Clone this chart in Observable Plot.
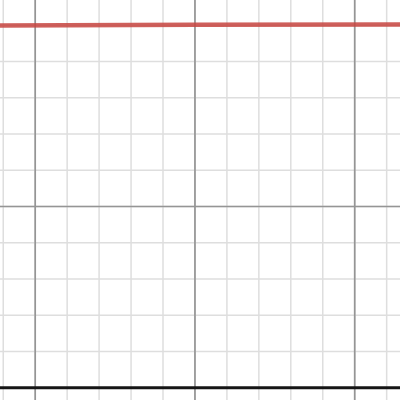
<!DOCTYPE html>
<html>
<head>
<meta charset="utf-8">
<script src="https://cdn.jsdelivr.net/npm/d3@7"></script>
<script src="https://cdn.jsdelivr.net/npm/@observablehq/plot@0.6"></script>
<style>
  html, body { margin: 0; padding: 0; background: #fff; }
  #chart svg { display: block; }
</style>
</head>
<body>
<div id="chart"></div>
<script>
// Visible window (graph units)
const xDomain = [3.914, 16.433];
const yDomain = [-0.35, 10.68];

// Grid lines
const minorX = [4, 5, 6, 7, 8, 9, 10, 11, 12, 13, 14, 15, 16];
const majorX = [5, 10, 15];
const minorY = [1, 2, 3, 4, 5, 6, 7, 8, 9, 10];
const majorY = [5, 10];
const axisY = [0];

// Red curve samples
const curveX = [3.914, 10, 16.433];
const curveY = [9.99, 10.01, 10.02];

const curve = curveX.map((x, i) => ({x, y: curveY[i]}));

const chart = Plot.plot({
  width: 400,
  height: 400,
  margin: 0,
  x: {domain: xDomain, axis: null},
  y: {domain: yDomain, axis: null},
  marks: [
    Plot.ruleX(minorX, {stroke: "#dedede", strokeWidth: 1.5}),
    Plot.ruleY(minorY, {stroke: "#dedede", strokeWidth: 1.5}),
    Plot.ruleX(majorX, {stroke: "#959595", strokeWidth: 1.7}),
    Plot.ruleY(majorY.filter(v => v !== 10), {stroke: "#959595", strokeWidth: 1.7}),
    Plot.ruleY(axisY, {stroke: "#151515", strokeWidth: 3}),
    Plot.line(curve, {x: "x", y: "y", stroke: "#c74440", strokeWidth: 4.5, strokeOpacity: 0.85})
  ]
});
document.getElementById("chart").appendChild(chart);
</script>
</body>
</html>
